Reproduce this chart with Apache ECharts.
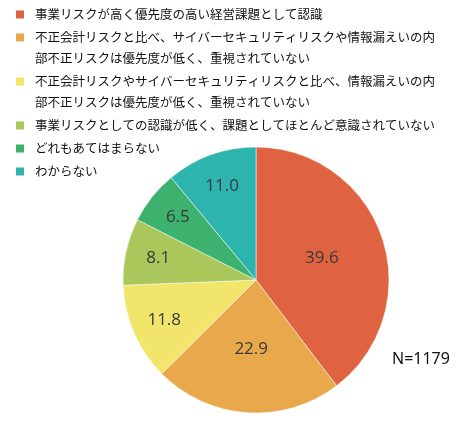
<!DOCTYPE html>
<html>
<head>
<meta charset="utf-8">
<script src="https://cdn.jsdelivr.net/npm/echarts@6/dist/echarts.min.js"></script>
<style>
html, body { margin: 0; padding: 0; background: #fff; }
#main { width: 457px; height: 426px; }
</style>
</head>
<body>
<div id="main"></div>
<script>
// categories (legend lines split by \n)
var categories = [
    '事業リスクが高く優先度の高い経営課題として認識',
    '不正会計リスクと比べ、サイバーセキュリティリスクや情報漏えいの内\n部不正リスクは優先度が低く、重視されていない',
    '不正会計リスクやサイバーセキュリティリスクと比べ、情報漏えいの内\n部不正リスクは優先度が低く、重視されていない',
    '事業リスクとしての認識が低く、課題としてほとんど意識されていない',
    'どれもあてはまらない',
    'わからない'
];
var values = [39.6, 22.9, 11.8, 8.1, 6.5, 11.0];
var colors = ['#E06341', '#E8A84B', '#F2E56B', '#A9C75B', '#3DB16E', '#2DB4AF'];
var sampleNote = 'N=1179';

var CX = 256, CY = 280, R = 133;

var myChart = echarts.init(document.getElementById('main'));

var rich = {
    t: { fontSize: 12.5, lineHeight: 21, color: '#111', fontFamily: 'Noto Sans CJK JP' },
    g: { width: 11, height: 8 },
    i: { width: 19, height: 8 }
};
colors.forEach(function (c, k) {
    rich['s' + k] = { width: 8, height: 8, backgroundColor: c };
});

var pieData = categories.map(function (name, k) {
    return { name: name, value: values[k] };
});

myChart.setOption({
    color: colors,
    animation: false,
    legend: {
        orient: 'vertical',
        left: 11,
        top: 4,
        padding: 0,
        itemGap: 2,
        itemWidth: 0,
        itemHeight: 8,
        icon: 'none',
        selectedMode: false,
        textStyle: { rich: rich, lineHeight: 21 },
        formatter: function (name) {
            var k = categories.indexOf(name);
            var lines = name.split('\n');
            var s = '{s' + k + '|}{g|}{t|' + lines[0] + '}';
            for (var j = 1; j < lines.length; j++) {
                s += '\n{i|}{t|' + lines[j] + '}';
            }
            return s;
        }
    },
    graphic: [{
        type: 'text',
        left: 392,
        top: 351,
        style: {
            text: sampleNote,
            fontSize: 16,
            fill: '#111',
            fontFamily: 'Noto Sans'
        }
    }],
    series: [{
        type: 'pie',
        center: [CX, CY],
        radius: [0, R],
        startAngle: 90,
        clockwise: true,
        data: pieData,
        itemStyle: { borderColor: '#fff', borderWidth: 0.5 },
        label: {
            show: true,
            position: 'inside',
            formatter: function (p) { return p.value.toFixed(1); },
            fontSize: 17,
            color: '#3a3a3a',
            fontFamily: 'Open Sans'
        },
        labelLine: { show: false },
        // push labels of small slices outward like best-fit placement
        labelLayout: function (p) {
            var r = p.labelRect;
            var lx = r.x + r.width / 2, ly = r.y + r.height / 2;
            var frac = values[p.dataIndex] >= 20 ? 0.5 : 0.72;
            var k = frac / 0.5;
            return { x: CX + (lx - CX) * k, y: CY + (ly - CY) * k };
        }
    }]
});
</script>
</body>
</html>
